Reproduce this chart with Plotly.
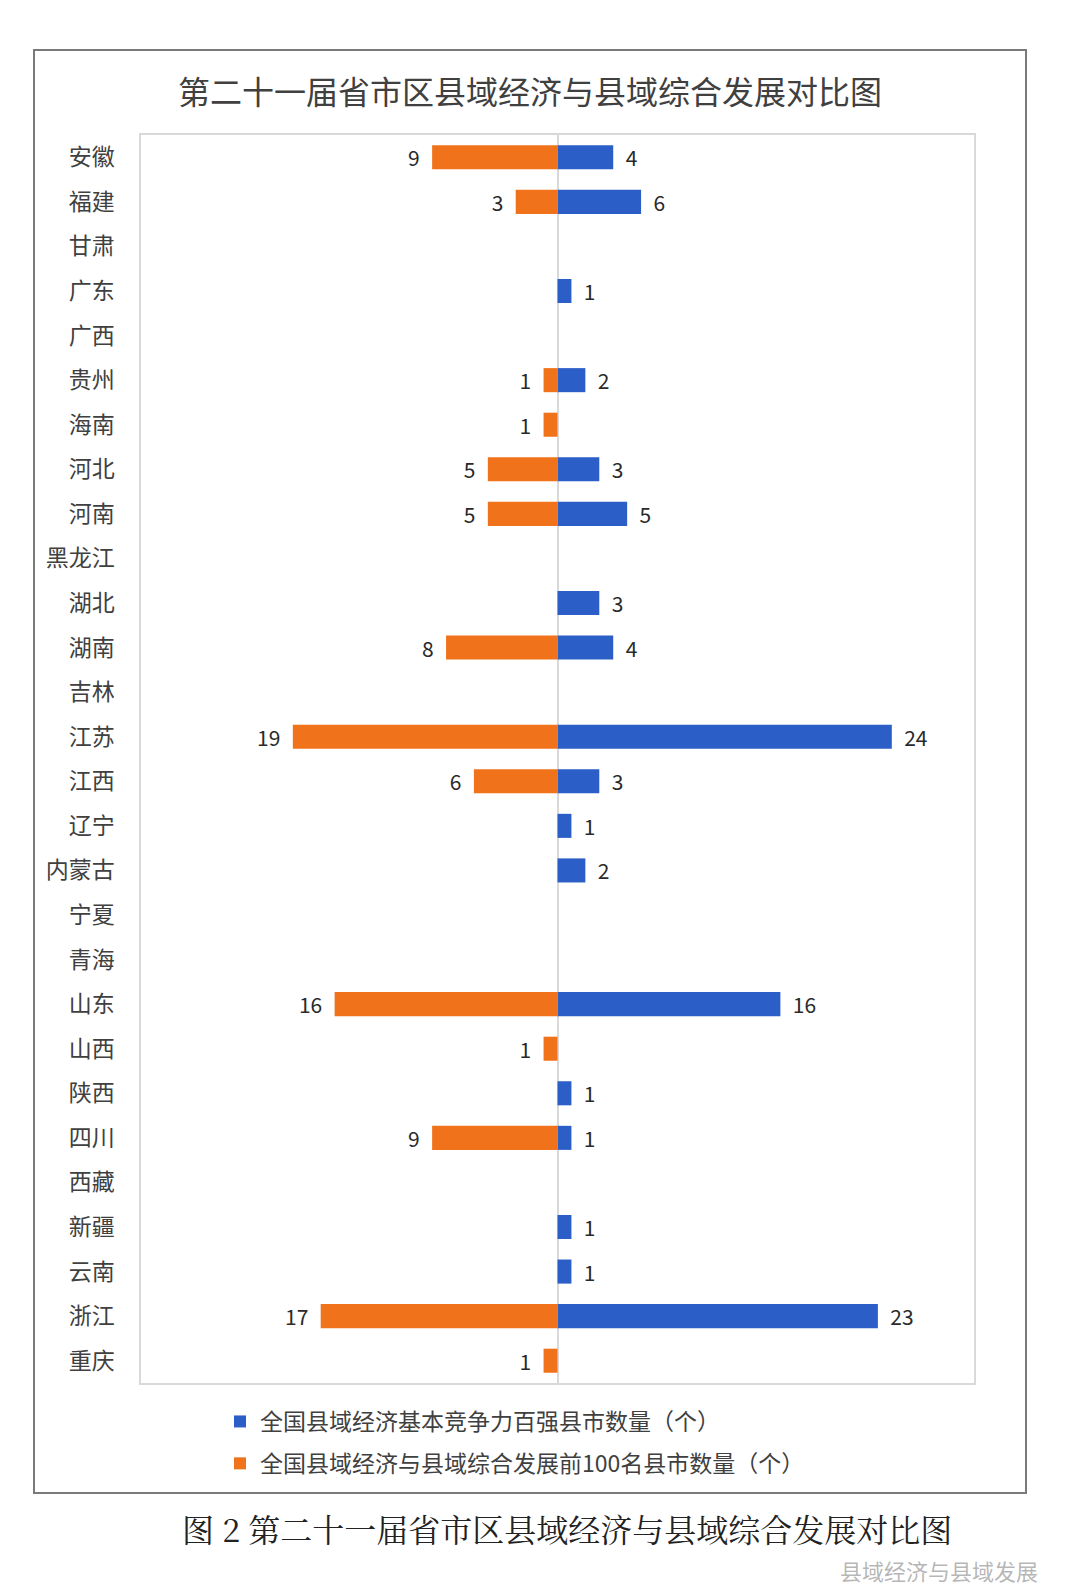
import plotly.graph_objects as go

provinces = ["安徽", "福建", "甘肃", "广东", "广西", "贵州", "海南", "河北", "河南", "黑龙江",
             "湖北", "湖南", "吉林", "江苏", "江西", "辽宁", "内蒙古", "宁夏", "青海", "山东",
             "山西", "陕西", "四川", "西藏", "新疆", "云南", "浙江", "重庆"]
top100_basic = [4, 6, 0, 1, 0, 2, 0, 3, 5, 0,
                3, 4, 0, 24, 3, 1, 2, 0, 0, 16,
                0, 1, 1, 0, 1, 1, 23, 0]
top100_comprehensive = [9, 3, 0, 0, 0, 1, 1, 5, 5, 0,
                        0, 8, 0, 19, 6, 0, 0, 0, 0, 16,
                        1, 0, 9, 0, 0, 0, 17, 1]
series_names = ["全国县域经济基本竞争力百强县市数量（个）",
                "全国县域经济与县域综合发展前100名县市数量（个）"]
title_text = "第二十一届省市区县域经济与县域综合发展对比图"
caption_text = "图 2 第二十一届省市区县域经济与县域综合发展对比图"
watermark_text = "县域经济与县域发展"

BLUE = "#2B5EC6"
ORANGE = "#F0721A"
TXT = "#404040"
LBL = "#2a2a2a"
FONT = "Noto Sans CJK SC, sans-serif"

fig = go.Figure()
fig.add_trace(go.Bar(
    y=provinces, x=top100_basic, orientation="h", name=series_names[0],
    legendgroup="a",
    marker=dict(color=BLUE, line=dict(width=0)),
    text=[f"  {v}" if v else "" for v in top100_basic],
    textposition="outside", cliponaxis=False, constraintext="none",
    textfont=dict(size=21, color=LBL, family=FONT),
))
fig.add_trace(go.Bar(
    y=provinces, x=[-v for v in top100_comprehensive], orientation="h", name=series_names[1],
    legendgroup="b",
    marker=dict(color=ORANGE, line=dict(width=0)),
    text=[f"{v}  " if v else "" for v in top100_comprehensive],
    textposition="outside", cliponaxis=False, constraintext="none",
    textfont=dict(size=21, color=LBL, family=FONT),
))

L, R, T, B = 133, 114, 127, 216
W, H = 1080, 1591
pw, ph = W - L - R, H - T - B

def px(x):
    return (x - L) / pw

def py(y):
    return (H - B - y) / ph

fig.update_layout(
    width=W, height=H,
    margin=dict(l=L, r=R, t=T, b=B),
    paper_bgcolor="white", plot_bgcolor="white",
    barmode="overlay", bargap=0.46,
    font=dict(family=FONT, color=TXT),
    showlegend=True,
    legend=dict(
        orientation="v", x=px(212), y=py(1392), xanchor="left", yanchor="top",
        font=dict(size=23, color=TXT, family=FONT), traceorder="grouped",
        itemwidth=30, tracegroupgap=9, bgcolor="rgba(0,0,0,0)",
    ),
    xaxis=dict(range=[-29.9, 29.9], showticklabels=False, showgrid=False,
               zeroline=True, zerolinecolor="#d9d9d9", zerolinewidth=1.5,
               showline=True, linecolor="#d9d9d9", linewidth=1.5, mirror=True,
               fixedrange=True),
    yaxis=dict(categoryorder="array", categoryarray=provinces, autorange="reversed",
               showgrid=False, ticks="", ticklabelstandoff=20,
               tickfont=dict(size=23, color=TXT, family=FONT),
               showline=True, linecolor="#d9d9d9", linewidth=1.5, mirror=True),
    shapes=[dict(type="rect", xref="paper", yref="paper",
                 x0=px(26), x1=px(1018), y0=py(1485), y1=py(42),
                 line=dict(color="#7a7a7a", width=2), fillcolor="rgba(0,0,0,0)", layer="below")],
    annotations=[
        dict(text=title_text, xref="paper", yref="paper", x=px(522), y=py(82),
             xanchor="center", yanchor="middle", showarrow=False,
             font=dict(size=32, color=TXT, family=FONT)),
        dict(text=caption_text, xref="paper", yref="paper", x=px(172), y=py(1520),
             xanchor="left", yanchor="middle", showarrow=False,
             font=dict(size=32, color="#222222", family="Noto Serif CJK SC, Noto Sans CJK SC, serif")),
        dict(text=watermark_text, xref="paper", yref="paper", x=px(1032), y=py(1562),
             xanchor="right", yanchor="middle", showarrow=False,
             font=dict(size=22, color="rgba(150,150,150,0.7)", family=FONT)),
    ],
)

fig.write_html("out.html")
